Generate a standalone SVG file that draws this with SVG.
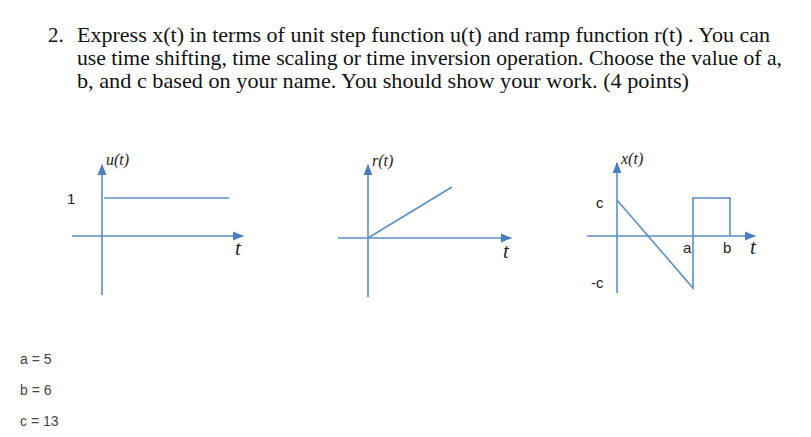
<svg xmlns="http://www.w3.org/2000/svg" width="811" height="437" viewBox="0 0 811 437">
<style>
.ax{stroke:#5b8fc9;stroke-width:1.6;fill:none}
.q{font-family:"Liberation Serif",serif;font-size:21px;fill:#111}
.lb{font-family:"Liberation Serif",serif;font-style:italic;font-size:16px;fill:#222}
.tt{font-family:"Liberation Serif",serif;font-style:italic;font-size:21px;fill:#222}
.s{font-family:"Liberation Sans",sans-serif;font-size:15px;fill:#222}
.v{font-family:"Liberation Sans",sans-serif;font-size:14px;fill:#444}
</style>
<defs><marker id="ar" viewBox="0 0 10 10" refX="9" refY="5" markerWidth="7" markerHeight="7" orient="auto"><path d="M0,1 L10,5 L0,9 z" fill="#4a7fc0"/></marker></defs>
<rect width="811" height="437" fill="#fff"/>
<text class="q" x="48" y="42" font-size="16">2.</text>
<text class="q" x="77" y="42" textLength="693" lengthAdjust="spacingAndGlyphs">Express x(t) in terms of unit step function u(t) and ramp function r(t) . You can</text>
<text class="q" x="77" y="65" textLength="705" lengthAdjust="spacingAndGlyphs">use time shifting, time scaling or time inversion operation. Choose the value of a,</text>
<text class="q" x="77" y="88" textLength="612" lengthAdjust="spacingAndGlyphs">b, and c based on your name. You should show your work. (4 points)</text>
<g id="connectors">
<line class="ax" x1="102" y1="295" x2="102" y2="165" marker-end="url(#ar)"/>
<line class="ax" x1="72" y1="236" x2="243" y2="236" marker-end="url(#ar)"/>
<line class="ax" x1="368" y1="297" x2="368" y2="165" marker-end="url(#ar)"/>
<line class="ax" x1="338" y1="238" x2="511" y2="238" marker-end="url(#ar)"/>
<line class="ax" x1="617" y1="293" x2="617" y2="163" marker-end="url(#ar)"/>
<line class="ax" x1="587" y1="236" x2="755" y2="236" marker-end="url(#ar)"/>
</g>
<g id="u"><polyline class="ax" points="104,198 229,198"/>
<text class="s" x="67" y="204" font-size="12">1</text><text class="lb" x="106" y="165">u(t)</text><text class="tt" x="235" y="255">t</text></g>
<g id="r"><polyline class="ax" points="368,238 452,187"/>
<text class="lb" x="372" y="166">r(t)</text><text class="tt" x="503" y="258">t</text></g>
<g id="x"><polyline class="ax" points="617,200 693,288 693,198 730,198 730,236"/>
<text class="lb" x="621" y="164">x(t)</text>
<text class="s" x="596" y="208">c</text><text class="s" x="591" y="288">-c</text>
<text class="s" x="683" y="253">a</text><text class="s" x="723" y="253">b</text><text class="tt" x="750" y="254">t</text></g>
<text class="v" x="20" y="364">a = 5</text>
<text class="v" x="20" y="395">b = 6</text>
<text class="v" x="20" y="426">c = 13</text>
</svg>
